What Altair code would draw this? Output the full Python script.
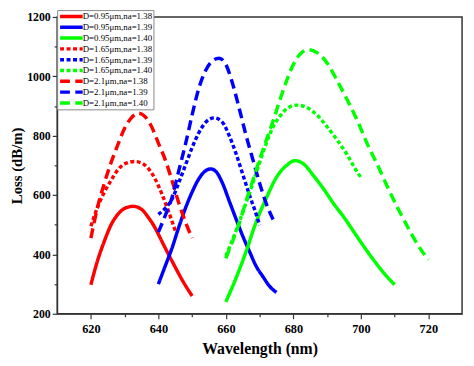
import altair as alt
import pandas as pd

labels = ["D=0.95μm,na=1.38", "D=0.95μm,na=1.39", "D=0.95μm,na=1.40",
          "D=1.65μm,na=1.38", "D=1.65μm,na=1.39", "D=1.65μm,na=1.40",
          "D=2.1μm,na=1.38", "D=2.1μm,na=1.39", "D=2.1μm,na=1.40"]
colors = ["#ff0000", "#0000ff", "#00ff00"] * 3
dashes = [[1, 0]] * 3 + [[4, 2.6]] * 3 + [[10, 5.5]] * 3

x_major = [620, 640, 660, 680, 700, 720]
x_minor = [630, 650, 670, 690, 710]
y_major = [200, 400, 600, 800, 1000, 1200]
y_minor = [300, 500, 700, 900, 1100]

# D=0.95
wl_r1 = [620, 622, 624, 626, 628, 630, 632.5, 635, 637, 639, 641, 643, 645, 647, 650]
ls_r1 = [298, 380, 445, 500, 535, 555, 562, 552, 525, 490, 445, 400, 357, 315, 260]
wl_b1 = [640, 642, 644, 646, 648, 650, 652, 654, 655.5, 657, 659, 661, 663, 665, 667, 669, 671, 673, 675]
ls_b1 = [300, 360, 420, 490, 555, 610, 655, 682, 688, 680, 640, 580, 520, 462, 410, 360, 325, 292, 272]
wl_g1 = [660, 663, 666, 669, 672, 675, 678, 680.5, 683, 686, 689, 692, 695, 698, 701, 704, 707, 710]
ls_g1 = [240, 320, 410, 510, 590, 660, 700, 716, 705, 665, 620, 570, 525, 475, 425, 378, 335, 298]
# D=1.65
wl_r2 = [620, 622, 624, 626, 628, 630, 633, 635, 637, 639, 641, 643, 645]
ls_r2 = [495, 560, 610, 650, 685, 705, 713, 708, 690, 655, 605, 545, 480]
wl_b2 = [640, 642, 644, 646, 648, 650, 652, 654, 656.5, 659, 661, 663, 665, 667, 669, 670]
ls_b2 = [535, 555, 585, 640, 700, 760, 810, 845, 860, 845, 800, 740, 670, 600, 535, 498]
wl_g2 = [660, 662, 664, 666, 668, 670, 672, 674, 676, 678, 681, 684, 687, 690, 693, 696, 698, 700]
ls_g2 = [395, 450, 510, 575, 640, 710, 775, 830, 865, 890, 903, 895, 870, 830, 785, 735, 695, 659]
# D=2.1
wl_r3 = [620, 622, 624, 626, 628, 630, 632, 634, 636, 638, 640, 642, 644, 646, 648, 650]
ls_r3 = [455, 560, 640, 710, 770, 825, 860, 876, 865, 830, 775, 720, 650, 575, 510, 455]
wl_b3 = [640, 642, 644, 646, 648, 650, 652, 654, 656, 658, 660, 662, 664, 666, 668, 670, 672, 674]
ls_b3 = [475, 530, 590, 680, 770, 870, 960, 1020, 1052, 1061, 1040, 975, 890, 800, 720, 640, 570, 518]
wl_g3 = [660, 662, 664, 666, 668, 670, 672, 674, 676, 678, 680, 682, 684.5, 687, 690, 693, 696, 699,
         702, 705, 708, 711, 714, 717, 720]
ls_g3 = [387, 445, 506, 580, 650, 720, 785, 850, 920, 985, 1040, 1075, 1090, 1080, 1045, 985, 920, 850,
         770, 700, 625, 555, 490, 430, 382]

series = [(wl_r1, ls_r1), (wl_b1, ls_b1), (wl_g1, ls_g1),
          (wl_r2, ls_r2), (wl_b2, ls_b2), (wl_g2, ls_g2),
          (wl_r3, ls_r3), (wl_b3, ls_b3), (wl_g3, ls_g3)]

rows = []
for lab, (w, l) in zip(labels, series):
    for a, b in zip(w, l):
        rows.append({"series": lab, "wl": a, "loss": b})
df = pd.DataFrame(rows)

font = "Liberation Serif"
legend = alt.Legend(title=None, orient="none", legendX=0, legendY=-7, padding=1,
                    fillColor="white", strokeColor="#888888",
                    symbolType="M-1,0H8.2", symbolSize=25, symbolStrokeWidth=3.5,
                    labelFont=font, labelFontSize=9, labelColor="black",
                    labelOffset=16, rowPadding=0, clipHeight=10.9, labelLimit=200)

xs = alt.Scale(domain=[610, 730], nice=False, zero=False)
ys = alt.Scale(domain=[200, 1200], nice=False, zero=False)

lines = alt.Chart(df).mark_line(strokeWidth=3.5, interpolate="monotone", strokeCap="butt").encode(
    x=alt.X("wl:Q", scale=xs,
            axis=alt.Axis(title="Wavelength (nm)", values=x_major, format="d",
                          grid=False, tickSize=5, labelPadding=4, titlePadding=6,
                          labelFontSize=12.5, titleFontSize=16)),
    y=alt.Y("loss:Q", scale=ys,
            axis=alt.Axis(title="Loss (dB/m)", values=y_major, format="d",
                          grid=False, tickSize=5, labelPadding=2, titlePadding=2,
                          labelFontSize=12, titleFontSize=15)),
    color=alt.Color("series:N", scale=alt.Scale(domain=labels, range=colors), legend=legend),
    strokeDash=alt.StrokeDash("series:N", scale=alt.Scale(domain=labels, range=dashes), legend=legend),
    detail="series:N",
)

minor = alt.Chart(df).mark_line(strokeOpacity=0).encode(
    x=alt.X("wl:Q", scale=xs,
            axis=alt.Axis(title=None, values=x_minor, orient="bottom", labels=False,
                          domain=False, grid=False, tickSize=3)),
    y=alt.Y("loss:Q", scale=ys,
            axis=alt.Axis(title=None, values=y_minor, orient="left", labels=False,
                          domain=False, grid=False, tickSize=3)),
    detail="series:N",
)

chart = alt.layer(lines, minor).resolve_axis(x="independent", y="independent").properties(
    width=412, height=302,
    autosize=alt.AutoSizeParams(type="none"),
    padding={"left": 50, "top": 6, "right": 4, "bottom": 50},
).configure_axis(
    labelFont=font, labelFontWeight="bold", labelColor="black",
    titleFont=font, titleFontWeight="bold", titleColor="black",
    domainColor="#333333", tickColor="#333333", domainWidth=1.2, tickWidth=1.2,
).configure_view(stroke="#333333", strokeWidth=1.5)

chart.save("out.html", embed_options={"renderer": "svg", "actions": False})
